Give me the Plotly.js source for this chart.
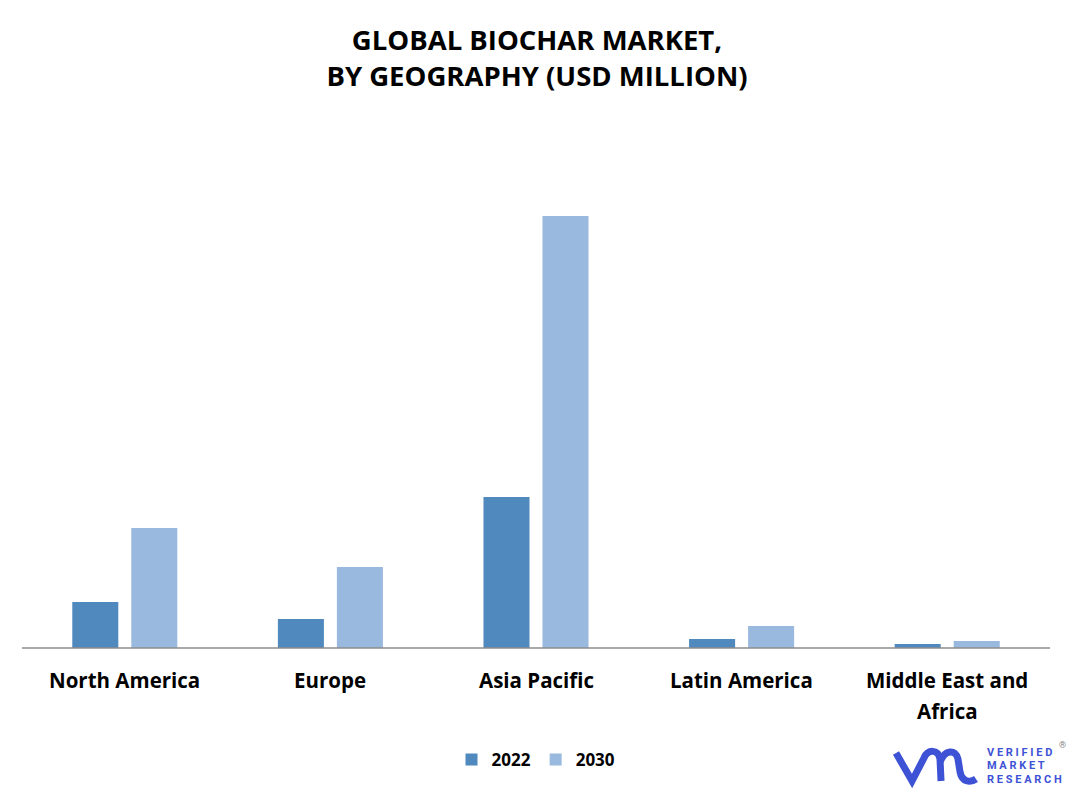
<!DOCTYPE html>
<html>
<head>
<meta charset="utf-8">
<script src="https://cdn.plot.ly/plotly-3.0.1.min.js"></script>
<style>html,body{margin:0;padding:0;background:#fff;}#chart{width:1074px;height:793px;}</style>
</head>
<body>
<div id="chart"></div>
<script>
const categories = ["North America", "Europe", "Asia Pacific", "Latin America", "Middle East and<br>Africa"];
const values2022 = [46, 29, 151, 9, 4];
const values2030 = [120, 81, 432, 22, 7];
const seriesNames = ["2022", "2030"];

const W = 1074, H = 793;
const mL = 22, mR = 24, mT = 168, mB = 145;
const pw = W - mL - mR, ph = H - mT - mB;
function px(x) { return (x - mL) / pw; }
function py(y) { return (H - mB - y) / ph; }
function P(x, y) { return px(x).toFixed(4) + ',' + py(y).toFixed(4); }

const logoBlue = '#3D52D5';
const logoPath = 'M' + P(896, 753) + ' L' + P(912, 781) + ' L' + P(924, 758) +
  ' C' + P(928, 749) + ' ' + P(938, 749) + ' ' + P(940, 759) + ' L' + P(941, 781) +
  ' M' + P(940, 763) + ' C' + P(944, 749) + ' ' + P(956, 749) + ' ' + P(958, 759) +
  ' L' + P(960, 772) + ' C' + P(962, 782) + ' ' + P(970, 783) + ' ' + P(976, 779);

const data = [
  {type: 'bar', name: seriesNames[0], x: categories, y: values2022, marker: {color: '#4F89BD'}, hoverinfo: 'none'},
  {type: 'bar', name: seriesNames[1], x: categories, y: values2030, marker: {color: '#99B9DF'}, hoverinfo: 'none'}
];

const labelFont = {family: '"Open Sans", sans-serif', size: 20.5, color: '#000000', weight: 'bold'};
const catAnnotations = [];
categories.forEach(function (c) {
  c.split('<br>').forEach(function (line, i) {
    catAnnotations.push({
      xref: 'x', yref: 'paper', x: c, y: py(680 + 31 * i), xanchor: 'center', yanchor: 'middle',
      showarrow: false, text: line, font: labelFont
    });
  });
});

const layout = {
  width: W, height: H,
  margin: {l: mL, r: mR, t: mT, b: mB, pad: 0},
  paper_bgcolor: '#ffffff', plot_bgcolor: '#ffffff',
  font: {family: '"Open Sans", sans-serif', color: '#000000'},
  title: {
    text: '<b>GLOBAL BIOCHAR MARKET,<br>BY GEOGRAPHY (USD MILLION)</b>',
    x: 0.5, xanchor: 'center', y: 1 - 50 / H, yanchor: 'middle',
    font: {family: '"Open Sans", sans-serif', size: 27.5, color: '#000000'}
  },
  barmode: 'group', bargap: 0.426, bargroupgap: 0.22,
  xaxis: {
    showgrid: false, zeroline: false, showline: false, ticks: '', showticklabels: false,
    fixedrange: true
  },
  yaxis: {
    range: [0, 480], visible: false, showgrid: false, zeroline: false, fixedrange: true
  },
  showlegend: true,
  legend: {
    orientation: 'h', x: 0.5, xanchor: 'center', y: py(760), yanchor: 'middle',
    font: {family: '"Open Sans", sans-serif', size: 17, color: '#000000', weight: 'bold'},
    itemwidth: 30, traceorder: 'normal'
  },
  shapes: [
    {type: 'line', xref: 'paper', yref: 'paper', x0: 0, x1: 1, y0: 0, y1: 0, line: {color: '#8C8C8C', width: 1.5}},
    {type: 'path', xref: 'paper', yref: 'paper', path: logoPath, line: {color: logoBlue, width: 7}}
  ],
  annotations: catAnnotations.concat([
    {xref: 'paper', yref: 'paper', x: px(985), y: py(752), xanchor: 'left', yanchor: 'middle', showarrow: false,
     text: '<b>V E R I F I E D</b>', font: {family: 'Roboto, sans-serif', size: 11, color: logoBlue}},
    {xref: 'paper', yref: 'paper', x: px(985), y: py(765.5), xanchor: 'left', yanchor: 'middle', showarrow: false,
     text: '<b>M A R K E T</b>', font: {family: 'Roboto, sans-serif', size: 11, color: logoBlue}},
    {xref: 'paper', yref: 'paper', x: px(985), y: py(779), xanchor: 'left', yanchor: 'middle', showarrow: false,
     text: '<b>R E S E A R C H</b>', font: {family: 'Roboto, sans-serif', size: 11, color: logoBlue}},
    {xref: 'paper', yref: 'paper', x: px(1062), y: py(745), xanchor: 'center', yanchor: 'middle', showarrow: false,
     text: '®', font: {family: 'Roboto, sans-serif', size: 9, color: '#888888'}}
  ])
};

Plotly.newPlot('chart', data, layout, {displayModeBar: false, staticPlot: true});
</script>
</body>
</html>
